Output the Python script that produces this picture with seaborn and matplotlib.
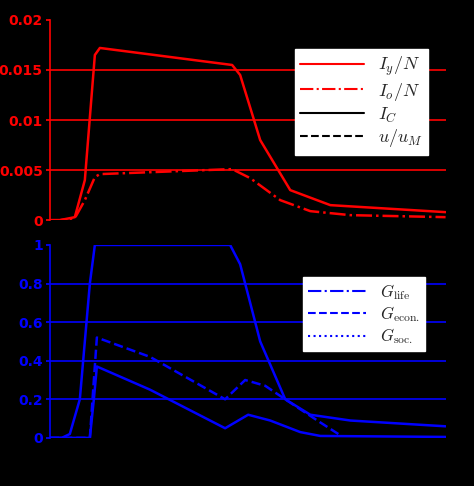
import numpy as np
import seaborn as sns
import matplotlib.pyplot as plt
from matplotlib.lines import Line2D

sns.set_theme(style="white")
plt.rcParams['font.family'] = 'DejaVu Sans'
plt.rcParams['mathtext.fontset'] = 'cm'

# time axis (arbitrary units, 0..395)
t_top = [0, 10, 25, 35, 45, 50, 182, 190, 210, 240, 280, 395]
iy = [0, 0, 0.0003, 0.004, 0.0165, 0.0172, 0.0155, 0.0145, 0.008, 0.003, 0.0015, 0.0008]
t_io = [0, 10, 25, 35, 45, 50, 182, 200, 230, 260, 300, 395]
io = [0, 0, 0.0002, 0.002, 0.0043, 0.0046, 0.0051, 0.0042, 0.002, 0.0009, 0.0005, 0.0003]

t_life = [0, 12, 20, 30, 40, 45, 180, 190, 210, 235, 260, 300, 395]
g_life = [0, 0, 0.02, 0.2, 0.8, 1.0, 1.0, 0.9, 0.5, 0.2, 0.12, 0.09, 0.06]
t_econ = [0, 40, 44, 47, 100, 175, 195, 215, 235, 270, 288]
g_econ = [0, 0, 0.3, 0.52, 0.42, 0.2, 0.3, 0.27, 0.2, 0.08, 0.02]
t_soc = [0, 40, 44, 47, 100, 175, 198, 220, 250, 270, 395]
g_soc = [0, 0, 0.2, 0.37, 0.25, 0.05, 0.12, 0.09, 0.03, 0.01, 0.005]

fig = plt.figure(figsize=(4.74, 4.86), dpi=100)
fig.patch.set_facecolor('black')
ax1 = fig.add_axes([0.105, 0.547, 0.835, 0.412])
ax2 = fig.add_axes([0.105, 0.099, 0.835, 0.397])

red, blue = '#ff0000', '#0000ff'
for ax, c in [(ax1, red), (ax2, blue)]:
    ax.set_facecolor('black')
    for s in ['top', 'right', 'bottom']:
        ax.spines[s].set_visible(False)
    ax.spines['left'].set_color(c)
    ax.spines['left'].set_linewidth(1.2)
    ax.tick_params(axis='y', colors=c, labelsize=10, left=True, length=3, pad=2)
    ax.tick_params(axis='x', bottom=False, labelbottom=False)
    ax.set_xlim(0, 395)

sns.lineplot(x=t_top, y=iy, ax=ax1, color=red, lw=1.8)
sns.lineplot(x=t_io, y=io, ax=ax1, color=red, lw=1.8, linestyle='-.')
ax1.set_ylim(0, 0.02)
ax1.set_yticks([0, 0.005, 0.01, 0.015, 0.02])
ax1.set_yticklabels(['0', '0.005', '0.01', '0.015', '0.02'], fontweight='bold')
for y in [0.005, 0.01, 0.015]:
    ax1.axhline(y, color=red, lw=1.2, zorder=0)
h1 = [Line2D([], [], color=red, lw=1.5), Line2D([], [], color=red, lw=1.5, ls='-.'),
      Line2D([], [], color='black', lw=1.5), Line2D([], [], color='black', lw=1.5, ls='--')]
ax1.legend(h1, [r'$I_y/N$', r'$I_o/N$', r'$I_C$', r'$u/u_M$'], loc='upper right',
           bbox_to_anchor=(0.97, 0.88), fontsize=13, frameon=True, fancybox=False,
           facecolor='white', edgecolor='white', framealpha=1, borderaxespad=0.3,
           labelspacing=0.15, handlelength=3.5, borderpad=0.3)

sns.lineplot(x=t_life, y=g_life, ax=ax2, color=blue, lw=1.8)
sns.lineplot(x=t_econ, y=g_econ, ax=ax2, color=blue, lw=1.8, linestyle='--')
sns.lineplot(x=t_soc, y=g_soc, ax=ax2, color=blue, lw=1.8)
ax2.set_ylim(0, 1)
ax2.set_yticks([0, 0.2, 0.4, 0.6, 0.8, 1])
ax2.set_yticklabels(['0', '0.2', '0.4', '0.6', '0.8', '1'], fontweight='bold')
for y in [0.2, 0.4, 0.6, 0.8]:
    ax2.axhline(y, color=blue, lw=1.2, zorder=0)
h2 = [Line2D([], [], color=blue, lw=1.5, ls='-.'), Line2D([], [], color=blue, lw=1.5, ls='--'),
      Line2D([], [], color=blue, lw=1.5, ls=':')]
ax2.legend(h2, [r'$G_{\rm life}$', r'$G_{\rm econ.}$', r'$G_{\rm soc.}$'], loc='upper right',
           bbox_to_anchor=(0.96, 0.86), fontsize=12, frameon=True, fancybox=False,
           facecolor='white', edgecolor='white', framealpha=1, borderaxespad=0.3,
           labelspacing=0.15, handlelength=3.5, borderpad=0.3)

plt.savefig('out.png', dpi=100, facecolor='black')
